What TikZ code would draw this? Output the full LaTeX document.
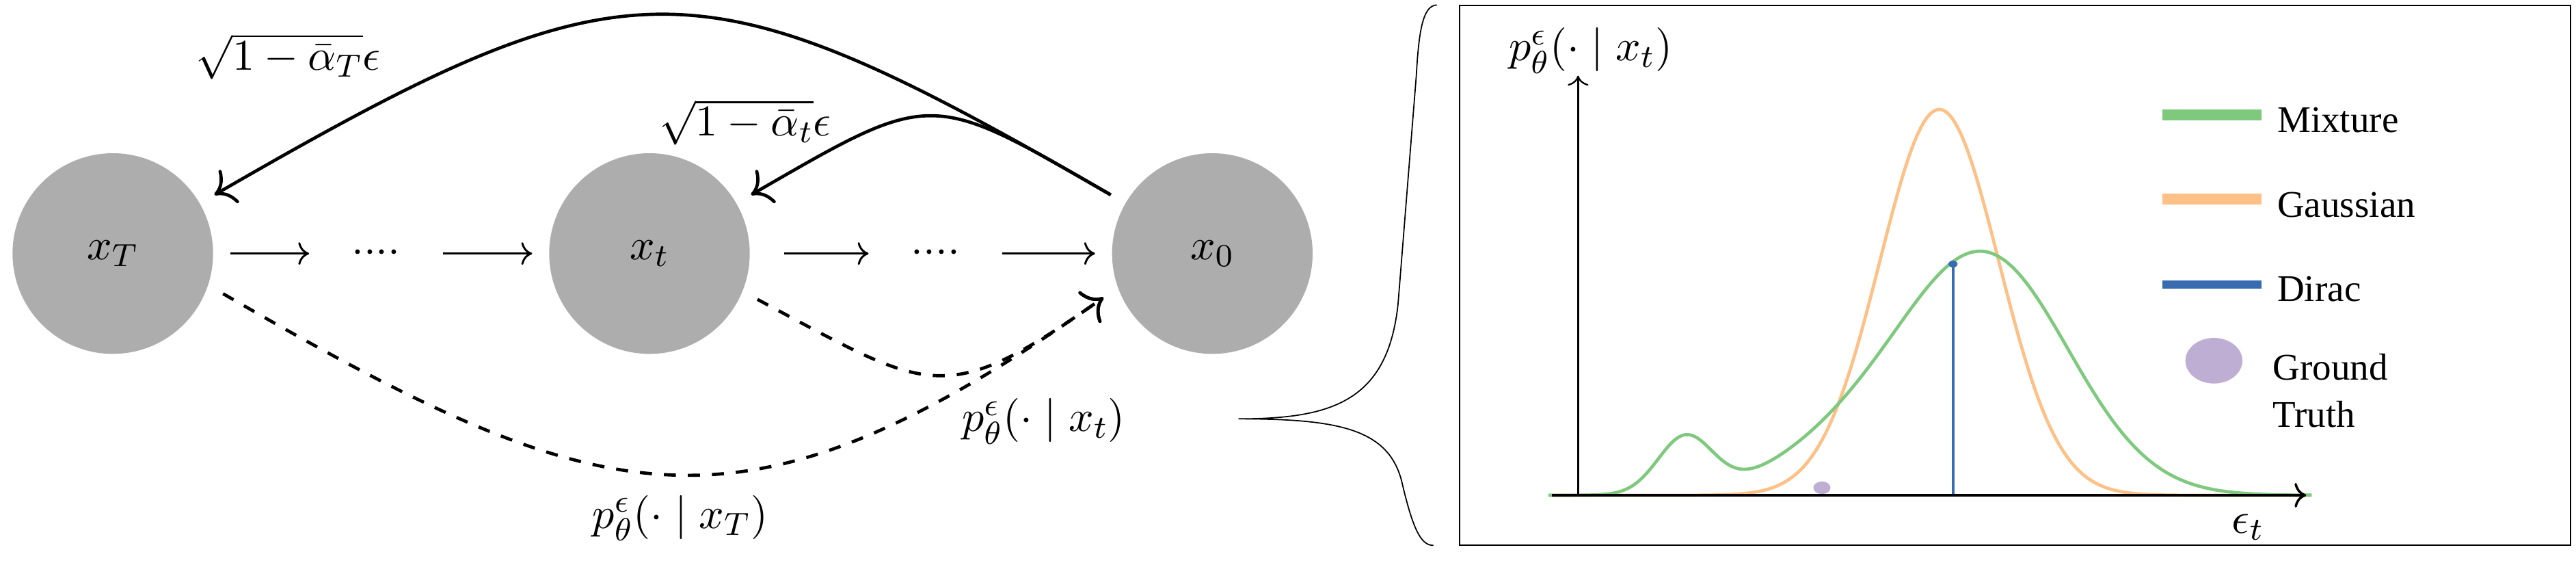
\documentclass[tikz,border=0pt]{standalone}
\usepackage{fontspec}
\newfontfamily\legendfont{Liberation Serif}
\usetikzlibrary{arrows.meta}

\definecolor{latentGray}{HTML}{ADADAD}
\definecolor{mixGreen}{HTML}{7FC97F}
\definecolor{gaussOrange}{HTML}{FDC086}
\definecolor{diracBlue}{HTML}{386CB0}
\definecolor{truthPurple}{HTML}{BEAED4}

\begin{document}
\begin{tikzpicture}[x=1cm,y=1cm,font=\fontsize{10.95}{13.6}\selectfont,
  latent/.style={circle,fill=latentGray,minimum size=1.76cm,inner sep=0pt,outer sep=0.15cm},
  gap/.style={minimum width=1.16cm,inner sep=0pt},
  chain/.style={->,line width=0.5pt},
  noise/.style={-{To[scale=1.35]},line width=0.8pt},
  pred/.style={-{To[scale=1.35]},dashed,line width=0.8pt},
  density/.style={line width=0.8pt},
  legtext/.style={anchor=base west,inner sep=0pt,font=\legendfont\fontsize{9.4}{11.8}\selectfont}]
  \useasboundingbox (0,0) rectangle (22.608,5.064);

  % chain of latents
  \node[latent] (xT) at (0.99,2.84) {$x_T$};
  \node[gap] (d1) at (3.30,2.84) {${\cdot}{\cdot}{\cdot}{\cdot}$};
  \node[latent] (xt) at (5.70,2.84) {$x_t$};
  \node[gap] (d2) at (8.21,2.84) {${\cdot}{\cdot}{\cdot}{\cdot}$};
  \node[latent] (x0) at (10.64,2.84) {$x_0$};

  \draw[chain] (xT) -- (d1);
  \draw[chain] (d1) -- (xt);
  \draw[chain,shorten <=0.15cm] (xt) -- (d2);
  \draw[chain] (d2) -- (x0);

  % noise paths back from x0
  \draw[noise] (x0) to[out=150,in=30,looseness=1.376] (xT);
  \draw[noise] (x0) to[out=150,in=30,looseness=1.50] (xt);
  \node (aT) at (2.53,4.57) {$\sqrt{1-\bar{\alpha}_T}\epsilon$};
  \node (at) at (6.54,3.99) {$\sqrt{1-\bar{\alpha}_t}\epsilon$};

  % predictions of x0
  \draw[pred] (xt.-23) to[out=-28,in=-145,looseness=1.45] (x0.202);
  \draw[pred] (xT.-20) to[out=-30,in=-145,looseness=1.29] (x0.202);
  \node (pt) at (9.16,1.37) {$p^{\epsilon}_{\theta}(\cdot\mid x_t)$};
  \node (pT) at (5.97,0.52) {$p^{\epsilon}_{\theta}(\cdot\mid x_T)$};

  % brace
  \draw[line width=0.3pt] (12.61,5.02) .. controls (12.48,5.02) and (12.45,4.75) .. (12.43,4.40)
    -- (12.27,2.40) .. controls (12.18,1.55) and (11.70,1.39) .. (10.87,1.39)
    .. controls (11.75,1.39) and (12.18,1.30) .. (12.30,0.85)
    .. controls (12.40,0.42) and (12.47,0.28) .. (12.58,0.28);

  % density panel
  \draw (12.81,0.282) rectangle (22.56,5.016);
  \draw[density,gaussOrange] plot[domain=13.59:20.29,samples=241]
    (\x,{0.72+3.384*exp(-((\x-17.02)^2)/0.545)});
  \draw[density,mixGreen] plot[domain=13.59:20.29,samples=241]
    (\x,{0.72+2.07*exp(-((\x-17.43)^2)/1.072)+0.372*exp(-((\x-16.20)^2)/0.871)+0.49*exp(-((\x-14.79)^2)/0.1152)});
  \draw[diracBlue,line width=0.7pt] (17.14,0.72) -- (17.14,2.748);
  \fill[diracBlue] (17.14,2.748) ellipse (0.04 and 0.03);
  \fill[truthPurple] (15.99,0.786) ellipse (0.075 and 0.055);

  \draw[->] (13.85,0.72) -- (13.85,4.40);
  \draw[->,semithick] (13.62,0.72) -- (20.24,0.72);
  \node (ylab) at (13.96,4.62) {$p^{\epsilon}_{\theta}(\cdot\mid x_t)$};
  \node (xlab) at (19.73,0.44) {$\epsilon_t$};

  % legend
  \draw[line width=2.7pt,mixGreen] (18.98,4.056) -- (19.85,4.056);
  \node[legtext] (lmix) at (19.98,3.906) {Mixture};
  \draw[line width=2.7pt,gaussOrange] (18.98,3.32) -- (19.85,3.32);
  \node[legtext] (lgauss) at (19.98,3.16) {Gaussian};
  \draw[line width=2.1pt,diracBlue] (18.98,2.57) -- (19.85,2.57);
  \node[legtext] (ldirac) at (19.98,2.42) {Dirac};
  \fill[truthPurple] (19.43,1.90) ellipse (0.25 and 0.20);
  \node[legtext] (lground) at (19.94,1.73) {Ground};
  \node[legtext] (ltruth) at (19.94,1.32) {Truth};
\end{tikzpicture}
\end{document}
